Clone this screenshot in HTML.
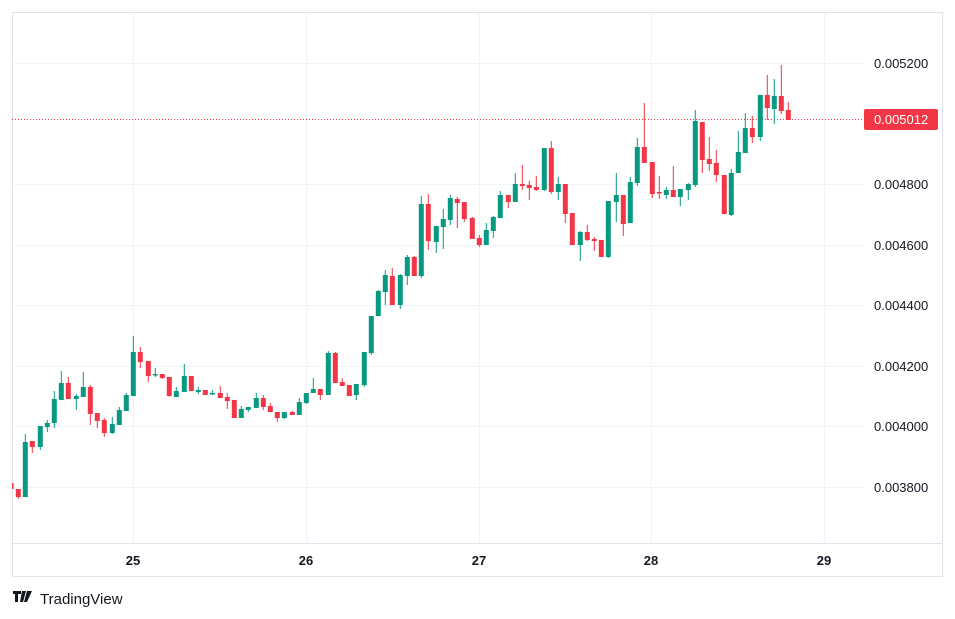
<!DOCTYPE html>
<html><head><meta charset="utf-8"><style>
html,body{margin:0;padding:0;background:#fff;width:955px;height:619px;overflow:hidden}
svg{display:block}
text{font-family:"Liberation Sans",sans-serif}
</style></head><body>
<svg width="955" height="619" viewBox="0 0 955 619" xmlns="http://www.w3.org/2000/svg">
<rect x="12.5" y="12.5" width="930" height="564" fill="#fff" stroke="#e0e3eb"/>
<g stroke="#f0f3fa" stroke-width="1">
<path d="M12 63.5H864M12 184.5H864M12 245.5H864M12 305.5H864M12 366.5H864M12 426.5H864M12 487.5H864"/>
<path d="M133.5 13V543M306.5 13V543M479.5 13V543M651.5 13V543M824.5 13V543"/>
</g>
<line x1="12" y1="543.5" x2="942" y2="543.5" stroke="#e0e3eb"/>
<line x1="12" y1="119.5" x2="864" y2="119.5" stroke="#f23645" stroke-dasharray="1 2"/>
<clipPath id="c"><rect x="12" y="13" width="852" height="530"/></clipPath>
<g clip-path="url(#c)">
<path stroke="#089981" stroke-width="1" fill="none" d="M25.3 434V497M40.3 426V450M47.3 420V432M54.3 391V428M61.3 371V400M76.3 394V410M83.3 372V397M112.3 417V434M119.3 407V425M126.3 393V411M133.3 336V396M155.3 368V377M176.3 387V397M184.3 364V392M198.3 387V394M212.3 390V395M241.3 406V418M248.3 407V412M256.3 393V408M284.3 412V419M299.3 398V415M306.3 393V404M313.3 378V393M328.3 351V395M356.3 384V400M364.3 352V387M371.3 316V355M378.3 290V316M385.3 270V305M400.3 274V309M407.3 255V285M421.3 196V278M436.3 226V253M443.3 209V249M450.3 195V225M486.3 223V245M493.3 216V238M500.3 191V218M515.3 173V202M544.3 148V191M558.3 177V200M580.3 231V261M608.3 201V258M616.3 173V222M630.3 177V223M637.3 138V186M666.3 187V199M680.3 189V206M688.3 183V200M695.3 110V187M731.3 169V216M738.3 131V173M745.3 113V153M760.3 95V141M774.3 79V124"/>
<path fill="#089981" d="M22.8 442h5V497h-5zM37.8 426h5V447h-5zM44.8 423h5V427h-5zM51.8 399h5V423h-5zM58.8 383h5V400h-5zM73.8 396h5V399h-5zM80.8 387h5V397h-5zM109.8 424h5V433h-5zM116.8 410h5V425h-5zM123.8 395h5V411h-5zM130.8 352h5V396h-5zM152.8 374h5V375.5h-5zM173.8 391h5V397h-5zM181.8 376h5V392h-5zM195.8 390h5V392h-5zM209.8 393h5V394.5h-5zM238.8 409h5V418h-5zM245.8 407h5V410h-5zM253.8 398h5V408h-5zM281.8 412h5V418h-5zM296.8 402h5V415h-5zM303.8 393h5V403h-5zM310.8 389h5V393h-5zM325.8 353h5V395h-5zM353.8 384h5V395h-5zM361.8 352h5V385h-5zM368.8 316h5V353h-5zM375.8 291h5V316h-5zM382.8 275h5V292h-5zM397.8 275h5V305h-5zM404.8 257h5V276h-5zM418.8 204h5V276h-5zM433.8 226h5V242h-5zM440.8 219h5V227h-5zM447.8 198h5V220h-5zM483.8 230h5V245h-5zM490.8 217h5V231h-5zM497.8 195h5V218h-5zM512.8 184h5V202h-5zM541.8 148h5V190h-5zM555.8 184h5V192h-5zM577.8 232h5V245h-5zM605.8 201h5V257h-5zM613.8 195h5V202h-5zM627.8 182h5V223h-5zM634.8 147h5V183h-5zM663.8 190h5V195h-5zM677.8 189h5V197h-5zM685.8 184h5V190h-5zM692.8 121h5V185h-5zM728.8 173h5V215h-5zM735.8 152h5V173h-5zM742.8 128h5V153h-5zM757.8 95h5V137h-5zM771.8 96h5V109h-5z"/>
<path stroke="#f23645" stroke-width="1" fill="none" d="M18.3 489V499M32.3 441V453M68.3 377V399M90.3 385V425M97.3 413V428M104.3 418V437M140.3 347V368M148.3 361V382M162.3 374V379M169.3 377V397M220.3 386V398M227.3 393V409M263.3 395V410M270.3 403V412M277.3 412V422M292.3 411V415M320.3 389V400M335.3 352V383M342.3 378V386M392.3 268V305M414.3 256V276M428.3 194V250M457.3 197V228M464.3 202V222M472.3 217V239M479.3 235V247M508.3 195V208M522.3 165V190M529.3 181V200M536.3 176V191M551.3 141V194M565.3 184V223M587.3 225V241M594.3 237V251M623.3 195V236M644.3 103V163M652.3 162V198M659.3 176V199M673.3 166V197M702.3 122V173M709.3 137V171M716.3 150V182M752.3 116V143M767.3 75V120M781.3 65V114M788.3 102V120"/>
<path fill="#f23645" d="M8.5 483h5V489h-5zM15.8 489h5V497h-5zM29.8 441h5V447h-5zM65.8 383h5V399h-5zM87.8 387h5V414h-5zM94.8 413h5V421h-5zM101.8 420h5V433h-5zM137.8 352h5V362h-5zM145.8 361h5V376h-5zM159.8 374h5V378h-5zM166.8 377h5V396h-5zM188.8 376h5V391h-5zM202.8 390h5V395h-5zM217.8 393h5V398h-5zM224.8 397h5V401h-5zM231.8 400h5V418h-5zM260.8 398h5V407h-5zM267.8 406h5V412h-5zM274.8 412h5V418h-5zM289.8 412h5V415h-5zM317.8 389h5V395h-5zM332.8 353h5V383h-5zM339.8 382h5V386h-5zM346.8 385h5V396h-5zM389.8 276h5V305h-5zM411.8 257h5V276h-5zM425.8 204h5V241h-5zM454.8 199h5V203h-5zM461.8 202h5V219h-5zM469.8 218h5V239h-5zM476.8 238h5V245h-5zM505.8 195h5V202h-5zM519.8 184h5V186h-5zM526.8 185h5V188h-5zM533.8 187h5V190h-5zM548.8 148h5V192h-5zM562.8 184h5V214h-5zM569.8 213h5V245h-5zM584.8 232h5V240h-5zM591.8 239h5V241h-5zM598.8 240h5V257h-5zM620.8 195h5V224h-5zM641.8 147h5V163h-5zM649.8 162h5V194h-5zM656.8 192h5V193.5h-5zM670.8 190h5V197h-5zM699.8 122h5V160h-5zM706.8 159h5V164h-5zM713.8 163h5V175h-5zM721.8 175h5V214h-5zM749.8 128h5V137h-5zM764.8 95h5V108h-5zM778.8 96h5V111h-5zM785.8 110h5V120h-5z"/>
</g>
<g font-size="13" fill="#131722">
<text x="874" y="68">0.005200</text>
<text x="874" y="189">0.004800</text>
<text x="874" y="250">0.004600</text>
<text x="874" y="310">0.004400</text>
<text x="874" y="371">0.004200</text>
<text x="874" y="431">0.004000</text>
<text x="874" y="492">0.003800</text>
</g>
<rect x="864" y="109" width="74" height="21" rx="2" fill="#f23645"/>
<text x="874" y="124" font-size="13" fill="#fff">0.005012</text>
<g font-size="13" font-weight="bold" fill="#131722" text-anchor="middle">
<text x="133" y="565">25</text><text x="306" y="565">26</text><text x="479" y="565">27</text><text x="651" y="565">28</text><text x="824" y="565">29</text>
</g>
<g fill="#131722">
<path d="M13 591h8v3h-3v8h-3v-8h-2zM22 591h4l-3 11h-3zM27 591h5l-5 11h-3z"/>
</g>
<text x="40" y="604" font-size="15" fill="#131722">TradingView</text>
</svg>
</body></html>
